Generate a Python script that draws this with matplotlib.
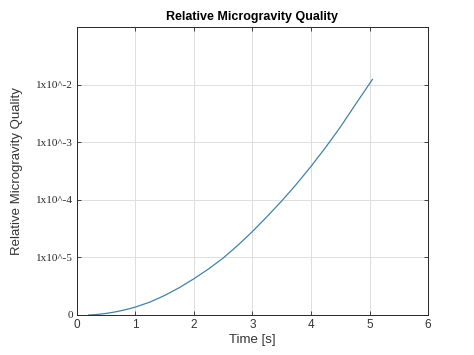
import matplotlib
matplotlib.use("Agg")
import matplotlib.pyplot as plt

# values
time_s = [0.2, 0.3, 0.4, 0.5, 0.6, 0.7, 0.8, 0.9, 1.0, 1.25, 1.5, 1.75, 2.0,
          2.25, 2.5, 2.75, 3.0, 3.25, 3.5, 3.75, 4.0, 4.25, 4.5, 4.75, 5.05]
quality = [0.0, 0.006, 0.015, 0.028, 0.044, 0.063, 0.085, 0.11, 0.138, 0.225,
           0.34, 0.475, 0.63, 0.80, 0.99, 1.21, 1.45, 1.71, 1.98, 2.27, 2.58,
           2.91, 3.26, 3.64, 4.09]

x_ticks = [0, 1, 2, 3, 4, 5, 6]
y_ticks = [0, 1, 2, 3, 4]
y_ticklabels = ["0", "1x10^-5", "1x10^-4", "1x10^-3", "1x10^-2"]

plt.rcParams['font.family'] = ['Liberation Sans', 'DejaVu Sans']

fig = plt.figure(figsize=(4.74, 3.55), dpi=100)
ax = fig.add_axes([0.1624, 0.1127, 0.7406, 0.8113])

ax.plot(time_s, quality, color='#4282a8', linewidth=0.9)

ax.set_xlim(0, 6)
ax.set_ylim(0, 5)
ax.set_xticks(x_ticks)
ax.set_yticks(y_ticks)
ax.set_yticklabels(y_ticklabels, fontfamily='Liberation Serif', fontsize=8)
ax.tick_params(axis='x', labelsize=8.5, labelcolor='#333333')
ax.tick_params(direction='in', top=True, right=True, length=3, width=0.6,
               color='#262626', pad=3)
ax.tick_params(axis='y', labelcolor='#262626')

ax.grid(True, color='#dedede', linewidth=0.7)
ax.set_axisbelow(True)
for s in ax.spines.values():
    s.set_color('#262626')
    s.set_linewidth(0.7)

ax.set_title("Relative Microgravity Quality", fontsize=9, fontweight='bold', pad=5)
ax.set_xlabel("Time [s]", fontsize=9.5, labelpad=2, color='#333333')
ax.set_ylabel("Relative Microgravity Quality", fontsize=9.5, labelpad=9, color='#333333')

fig.savefig("out.png", dpi=100)
